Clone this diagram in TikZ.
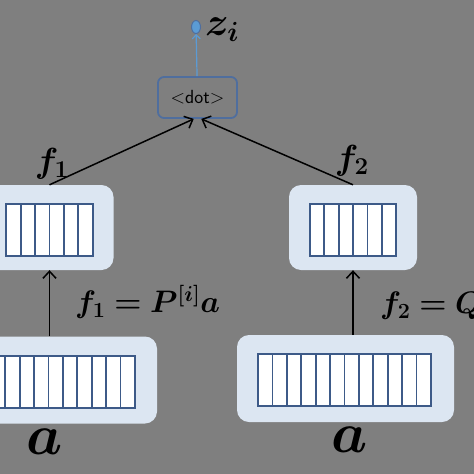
\documentclass[tikz,border=0pt]{standalone}
\usepackage{graphicx}
\usepackage{amsmath, amssymb, bm}
\usetikzlibrary{arrows.meta, shapes.geometric}

\definecolor{bggray}{HTML}{7F7F7F}
\definecolor{boxfill}{HTML}{DCE6F2}
\definecolor{cellline}{HTML}{3D5A88}
\definecolor{dotline}{HTML}{4F6E9E}
\definecolor{outblue}{HTML}{5B9BD5}

\tikzset{
	vecbox/.style={fill=boxfill, rounded corners=12pt, inner sep=0pt},
	dotbox/.style={draw=dotline, line width=1.8pt, rounded corners=6pt,
		minimum width=79pt, minimum height=41pt, inner sep=0pt,
		font=\sffamily\fontsize{19}{19}\selectfont},
	link/.style={line width=1.5pt, -{Straight Barb[length=7pt, width=13pt, line width=1.5pt]}},
	lbl/.style={inner sep=0pt, font=\fontsize{24}{24}\selectfont}
}

\begin{document}
\begin{tikzpicture}[x=1pt, y=-1pt]
	% parameters
	\def\C{14.4} % cell width
	\def\T{52}   % cell height

	% background
	\fill[bggray] (0,0) rectangle (474,474);
	\useasboundingbox (0,0) rectangle (474,474);
	\clip (0,0) rectangle (474,474);

	% boxes
	\node[vecbox, minimum width=128pt, minimum height=85pt] (f1box) at (49.5,227.5) {};
	\node[vecbox, minimum width=128pt, minimum height=85pt] (f2box) at (353,227.5) {};
	\node[vecbox, minimum width=217pt, minimum height=87pt] (a1box) at (48.5,380) {};
	\node[vecbox, minimum width=217pt, minimum height=87pt] (a2box) at (345.5,378.5) {};
	\node[dotbox] (dot) at (197.5,97.5) {<dot>};

	% cells
	\foreach \cx/\cy/\n in {49.5/230/6, 353/230/6, 48.5/382/12, 344.5/380/12} {
		\foreach \k in {1,...,\n} {
			\draw[cellline, line width=1.8pt, fill=white]
				({\cx-\n*\C/2+(\k-1)*\C},{\cy-\T/2}) rectangle ++(\C,\T);
		}
	}

	% output
	\node[ellipse, draw=dotline, fill=outblue, line width=1pt,
		minimum width=9pt, minimum height=13pt, inner sep=0pt] (z) at (196,27) {};
	\draw[outblue, line width=1.2pt, -{Straight Barb[length=4pt, width=8pt]}] (dot) -- (z);
	\node[lbl, anchor=west] at (205,30) {\scalebox{1.6}{$\bm{z_i}$}};

	% arrows
	\draw[link] (f1box.north) -- (dot.-100);
	\draw[link] (f2box.north) -- (dot.-80);
	\draw[link] (a1box.north -| f1box.north) -- (f1box.south);
	\draw[link] (a2box.north -| f2box.north) -- (f2box.south);

	% labels
	\node[lbl] at (52,164) {\scalebox{1.4}{$\bm{f_1}$}};
	\node[lbl] at (352,161) {\scalebox{1.4}{$\bm{f_2}$}};
	\node[lbl, anchor=west] at (75,302) {\scalebox{1.25}{$\bm{f_1 = P^{[i]}a}$}};
	\node[lbl, anchor=west] at (380,306) {\scalebox{1.25}{$\bm{f_2 = Q}$}};
	\node[lbl] at (45,442) {\scalebox{2.3}{$\bm{a}$}};
	\node[lbl] at (350,440) {\scalebox{2.3}{$\bm{a}$}};
\end{tikzpicture}
\end{document}
